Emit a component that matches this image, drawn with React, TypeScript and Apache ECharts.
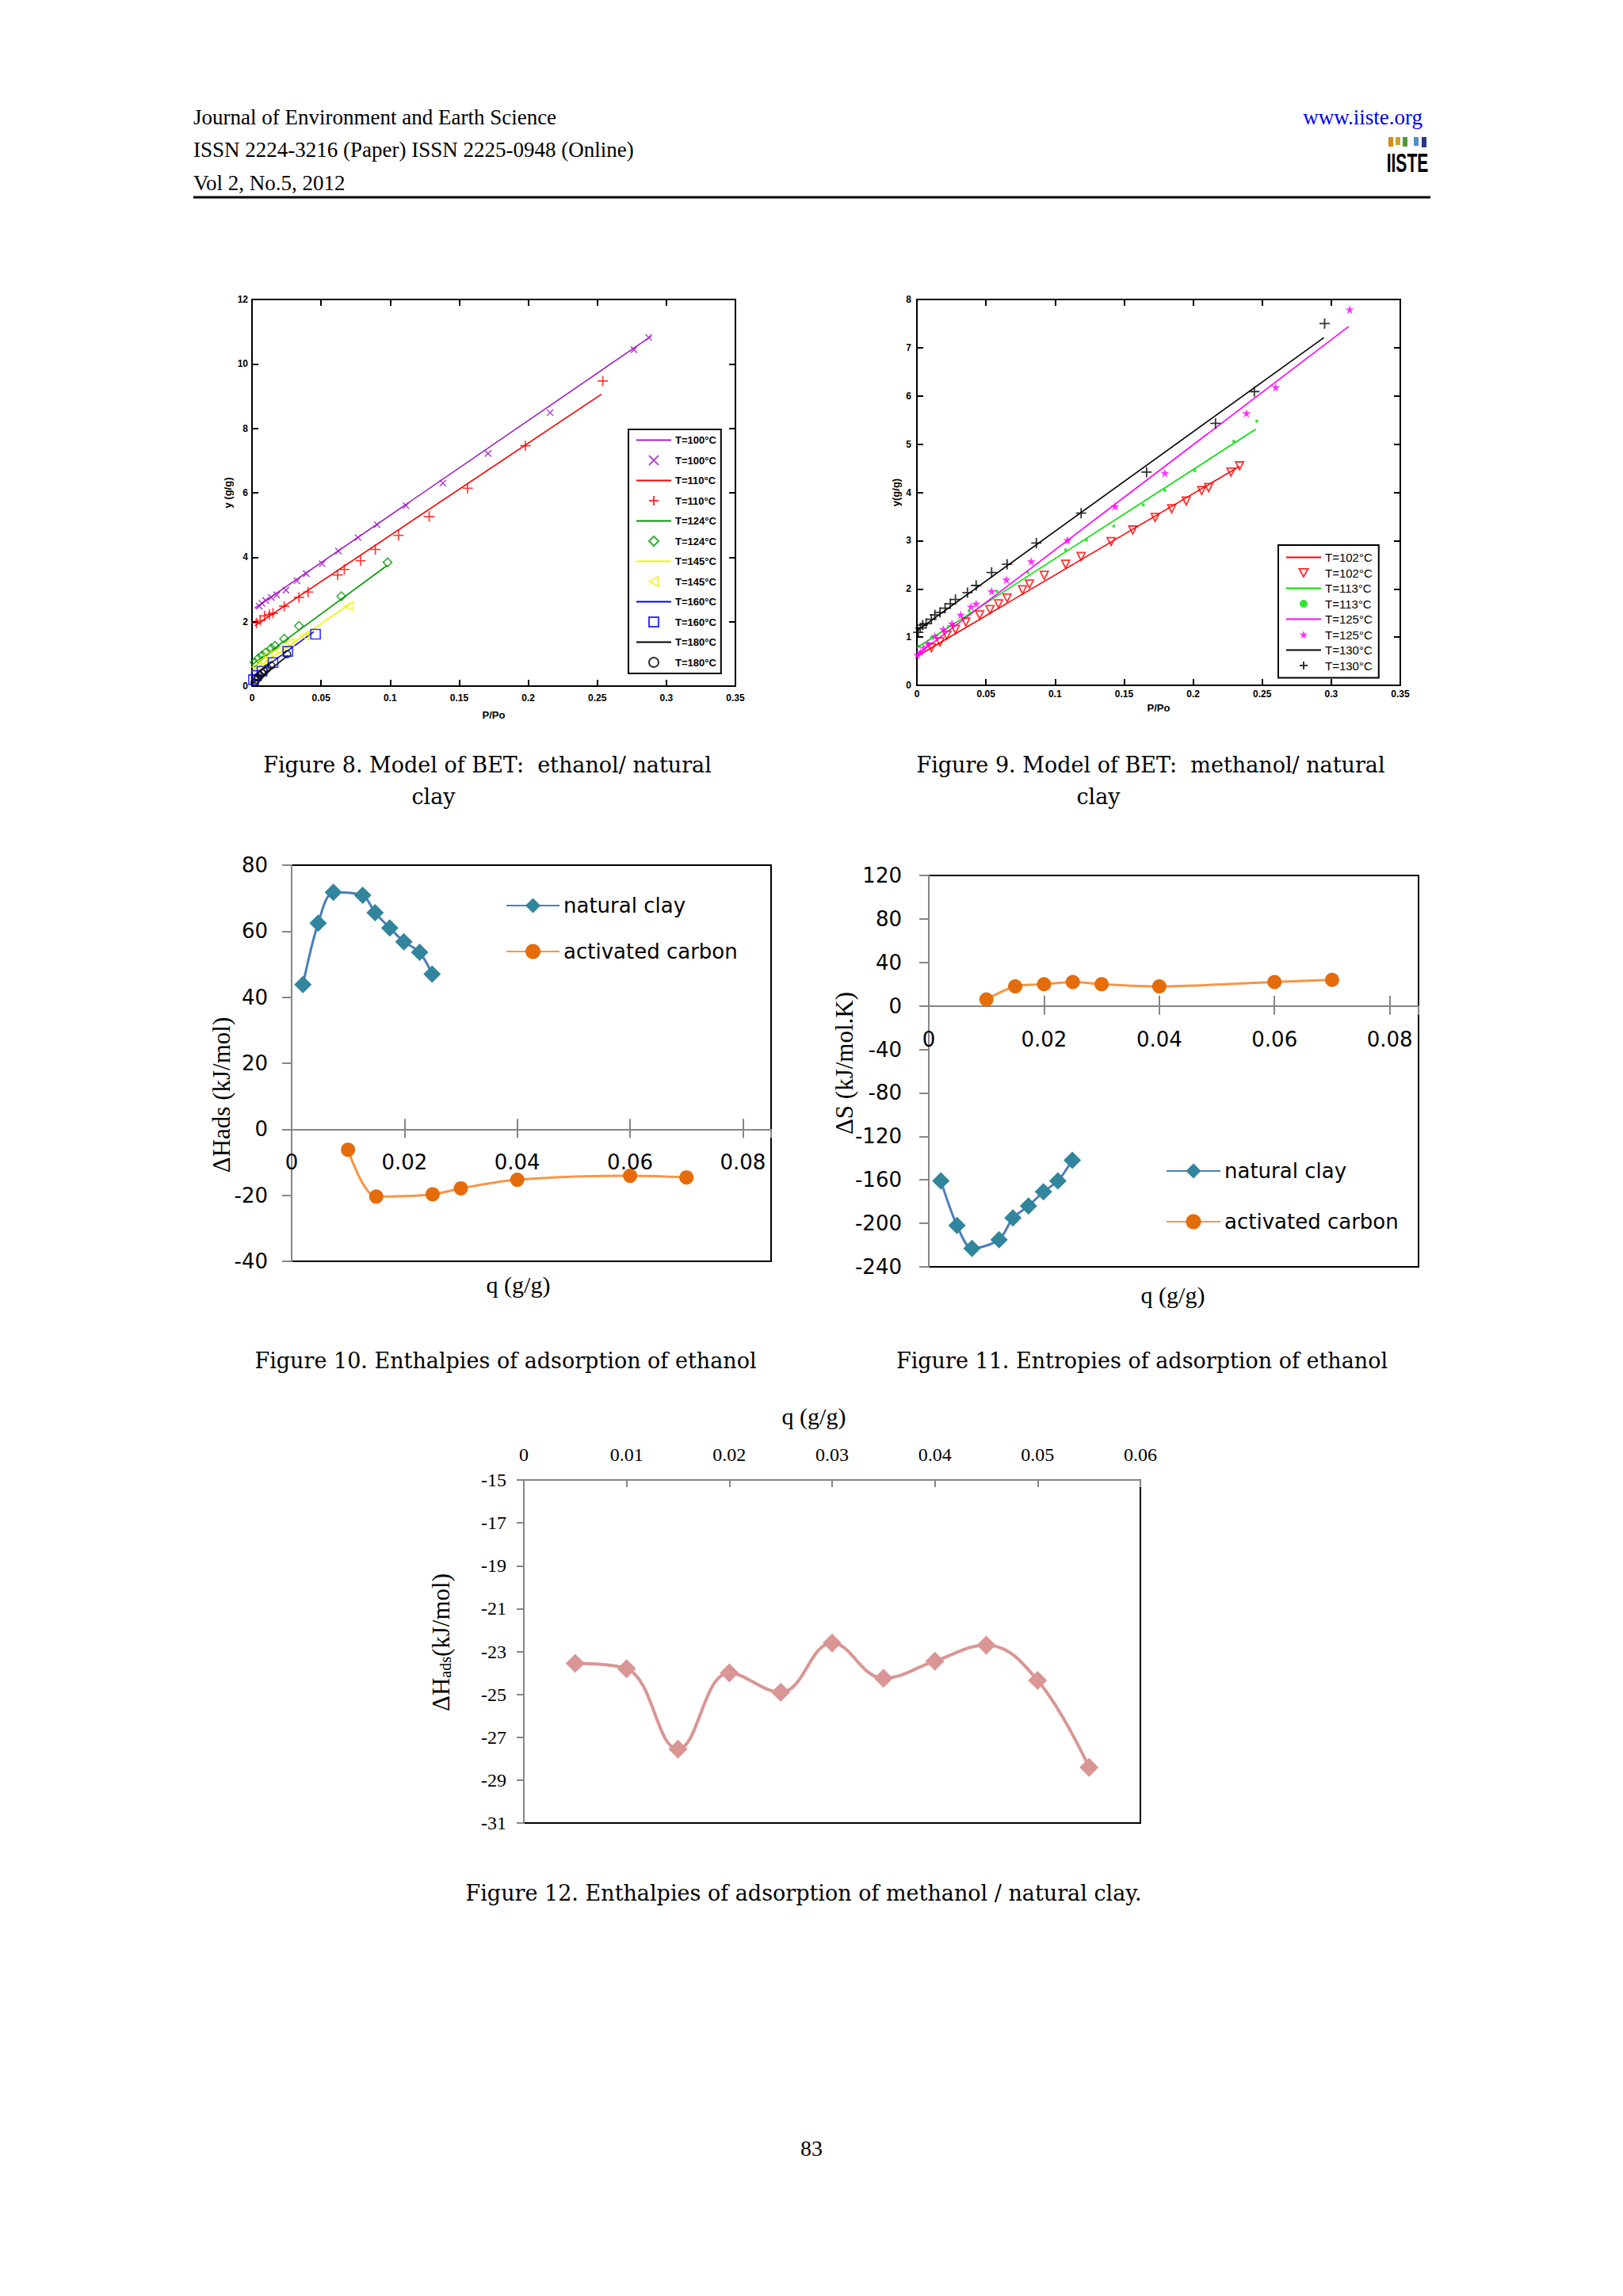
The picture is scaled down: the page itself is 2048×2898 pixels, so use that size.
import React, { useEffect, useRef } from 'react';
import * as echarts from 'echarts';

const PAGE_W = 2048;
const PAGE_H = 2898;

// ---------------- Figure 8 : BET, ethanol / natural clay ----------------
const F8_LABELS = ['T=100°C', 'T=110°C', 'T=124°C', 'T=145°C', 'T=160°C', 'T=180°C'];
const F8_COLORS = ['#A020C0', '#FF0000', '#009A00', '#F2F200', '#0000FF', '#000000'];
const F8_FIT_100 = [[0.002, 2.42], [0.289, 10.86]];
const F8_FIT_110 = [[0.002, 1.87], [0.253, 9.06]];
const F8_FIT_124 = [[0.0005, 0.68], [0.098, 3.75]];
const F8_FIT_145 = [[0, 0.46], [0.0714, 2.57]];
const F8_FIT_160 = [[0, 0.29], [0.0447, 1.69]];
const F8_FIT_180 = [[0, 0.07], [0.026, 0.95]];
const F8_PTS_100 = [[0.0053, 2.48], [0.0072, 2.57], [0.0099, 2.66], [0.0139, 2.75], [0.0179, 2.83], [0.0246, 2.98], [0.0326, 3.27], [0.0393, 3.49], [0.0508, 3.8], [0.0626, 4.19], [0.0767, 4.61], [0.0906, 5.01], [0.1115, 5.6], [0.1382, 6.3], [0.1709, 7.22], [0.2158, 8.49], [0.2765, 10.44], [0.2872, 10.82]];
const F8_PTS_110 = [[0.0032, 1.96], [0.0059, 2.04], [0.0091, 2.18], [0.0126, 2.22], [0.0152, 2.26], [0.0233, 2.48], [0.034, 2.75], [0.0406, 2.92], [0.062, 3.45], [0.0668, 3.62], [0.0786, 3.89], [0.0893, 4.24], [0.1061, 4.68], [0.1283, 5.26], [0.1561, 6.14], [0.1979, 7.46], [0.254, 9.47]];
const F8_PTS_124 = [[0.0019, 0.73], [0.0045, 0.86], [0.0072, 0.95], [0.0099, 1.04], [0.0139, 1.17], [0.0166, 1.25], [0.0233, 1.47], [0.034, 1.87], [0.0647, 2.79], [0.0981, 3.84]];
const F8_PTS_145 = [[0.0032, 0.6], [0.0072, 0.77], [0.0112, 0.95], [0.0193, 1.1], [0.0273, 1.34], [0.038, 1.56], [0.0701, 2.48]];
const F8_PTS_160 = [[0.0011, 0.2], [0.0032, 0.33], [0.0072, 0.46], [0.0152, 0.73], [0.0259, 1.08], [0.046, 1.61]];
const F8_PTS_180 = [[0.0019, 0.11], [0.0032, 0.2], [0.0045, 0.26], [0.0059, 0.33], [0.0072, 0.4], [0.0091, 0.46], [0.0112, 0.55], [0.0139, 0.64], [0.0254, 0.99]];

// ---------------- Figure 9 : BET, methanol / natural clay ----------------
const F9_LABELS = ['T=102°C', 'T=113°C', 'T=125°C', 'T=130°C'];
const F9_COLORS = ['#FF0000', '#00E000', '#FF00FF', '#000000'];
const F9_FIT_102 = [[0, 0.6], [0.2336, 4.54]];
const F9_FIT_113 = [[0, 0.78], [0.2453, 5.31]];
const F9_FIT_125 = [[0, 0.63], [0.3126, 7.44]];
const F9_FIT_130 = [[0, 1.13], [0.2947, 7.21]];
const F9_PTS_102 = [[0.0105, 0.78], [0.0167, 0.9], [0.0217, 1.04], [0.0279, 1.16], [0.0354, 1.31], [0.0454, 1.46], [0.0529, 1.57], [0.0591, 1.69], [0.0653, 1.81], [0.0765, 1.98], [0.0815, 2.1], [0.0922, 2.28], [0.1077, 2.51], [0.1189, 2.67], [0.1406, 2.98], [0.1563, 3.22], [0.1725, 3.48], [0.1845, 3.66], [0.195, 3.82], [0.2062, 4.04], [0.2112, 4.1], [0.2274, 4.42], [0.2336, 4.55]];
const F9_PTS_113 = [[0.0017, 0.81], [0.0105, 0.99], [0.0229, 1.22], [0.0379, 1.54], [0.0578, 1.95], [0.0803, 2.34], [0.1077, 2.81], [0.1227, 3.01], [0.1426, 3.3], [0.1638, 3.74], [0.1795, 4.04], [0.2012, 4.45], [0.2294, 5.06], [0.2461, 5.48]];
const F9_PTS_125 = [[0.0005, 0.63], [0.0025, 0.69], [0.005, 0.78], [0.008, 0.87], [0.013, 1.02], [0.0192, 1.16], [0.0254, 1.28], [0.0317, 1.46], [0.0391, 1.63], [0.0429, 1.69], [0.0541, 1.95], [0.0648, 2.19], [0.0828, 2.57], [0.109, 3.01], [0.1434, 3.71], [0.1795, 4.4], [0.2386, 5.64], [0.2598, 6.18], [0.3134, 7.79]];
const F9_PTS_130 = [[0.001, 1.1], [0.0025, 1.19], [0.0042, 1.25], [0.0067, 1.28], [0.0105, 1.37], [0.013, 1.46], [0.0167, 1.51], [0.0204, 1.6], [0.0242, 1.69], [0.0279, 1.78], [0.0366, 1.92], [0.0429, 2.07], [0.0541, 2.34], [0.0653, 2.51], [0.0865, 2.95], [0.1189, 3.57], [0.1663, 4.42], [0.2162, 5.43], [0.2443, 6.09], [0.2952, 7.5]];

// ---------------- Figure 10 : enthalpies, ethanol ----------------
const F10_CLAY_Q = [0.002, 0.0047, 0.0074, 0.0126, 0.0148, 0.0174, 0.0199, 0.0227, 0.0249];
const F10_CLAY_H = [43.8, 62.4, 71.8, 70.9, 65.6, 61.0, 56.8, 53.6, 47.0];
const F10_AC_Q = [0.01, 0.015, 0.025, 0.03, 0.04, 0.06, 0.07];
const F10_AC_H = [-6.2, -20.4, -19.7, -17.9, -15.3, -14.1, -14.6];
const F10_Y_RANGE = [-40, 80];

// ---------------- Figure 11 : entropies, ethanol ----------------
const F11_CLAY_Q = [0.0021, 0.0049, 0.0075, 0.0122, 0.0146, 0.0173, 0.0199, 0.0224, 0.0249];
const F11_CLAY_S = [-161, -202, -223, -215, -195, -184, -171, -161, -142];
const F11_AC_Q = [0.01, 0.015, 0.02, 0.025, 0.03, 0.04, 0.06, 0.07];
const F11_AC_S = [6, 18, 20, 22, 20, 18, 22, 24];
const F11_Y_RANGE = [-240, 120];

// ---------------- Figure 12 : enthalpies, methanol / natural clay ----------------
const F12_Q = [0.005, 0.01, 0.015, 0.02, 0.025, 0.03, 0.035, 0.04, 0.045, 0.05, 0.055];
const F12_H = [-23.55, -23.8, -27.55, -24.0, -24.9, -22.6, -24.25, -23.45, -22.7, -24.35, -28.4];
const F12_Y_TICKS = [-31, -29, -27, -25, -23, -21, -19, -17, -15];

const SYM_X = 'path://M0,0L10,10M10,0L0,10';
const SYM_PLUS = 'path://M5,0L5,10M0,5L10,5';
const SYM_STAR = 'path://M5,0L6.2,3.6L10,3.6L6.9,5.9L8.1,9.5L5,7.3L1.9,9.5L3.1,5.9L0,3.6L3.8,3.6Z';
const SYM_LEFT = 'path://M10,0L10,10L1,5Z';
const SYM_DOWN = 'path://M0,1L10,1L5,10Z';
const SYM_DIAMOND = 'path://M5,0L10,5L5,10L0,5Z';
const SYM_SQUARE = 'path://M0,0L10,0L10,10L0,10Z';
const SYM_CIRCLE = 'circle';
const LINE_ICON = 'path://M0,0L44,0L44,2L0,2Z';

const zip = (a: number[], b: number[]) => a.map((v, i) => [v, b[i]]);
const NONE = 'rgba(0,0,0,0)';

const SERIF = '"Liberation Serif"';
const CAP = '"DejaVu Serif"';
const TAH = 'DejaVu Sans';
const GRAY = '#868686';

// grid boxes
const G8 = { left: 318, top: 378, width: 610, height: 488 };
const G9 = { left: 1157, top: 378, width: 610, height: 487 };
const G10 = { left: 368, top: 1092, width: 605, height: 500 };
const G11 = { left: 1172, top: 1105, width: 618, height: 494 };
const G12 = { left: 661, top: 1868, width: 778, height: 433 };

const zeroOf = (g: any, r: number[]) => g.top + (r[1] / (r[1] - r[0])) * g.height;

function matAxis(dim: 'x' | 'y', grid: number, pos: string, min: number, max: number, interval: number, showLabel: boolean, margin: number, name?: string, nameGap?: number) {
  return {
    type: 'value', gridIndex: grid, position: pos, min, max, interval,
    name: name || '', nameLocation: 'middle', nameGap: nameGap || 0,
    nameRotate: dim === 'y' ? 90 : 0,
    nameTextStyle: { fontFamily: 'Liberation Sans', fontWeight: 'bold', fontSize: 13, color: '#000' },
    axisLine: { show: true, onZero: false, lineStyle: { color: '#000', width: 2 } },
    axisTick: { show: true, inside: true, length: 8, lineStyle: { color: '#000', width: 2 } },
    axisLabel: { show: showLabel, margin, fontFamily: 'Liberation Sans', fontWeight: 'bold', fontSize: 12, color: '#000' },
    splitLine: { show: false },
  };
}

const fmt02 = (v: number) => {
  const k = v / 0.02;
  return Math.abs(k - Math.round(k)) < 1e-6 ? String(+v.toFixed(2)) : '';
};

const Q_MAX = 0.085;

// hidden data axis for fig 10 / 11
function dataX(grid: number) {
  return { type: 'value', gridIndex: grid, min: 0, max: Q_MAX, show: false, axisLine: { onZero: false } };
}
// visible axis drawn along the zero line (upper half of the cross ticks + labels)
function zeroAxisTop(grid: number) {
  return {
    type: 'value', gridIndex: grid, position: 'top', min: 0, max: Q_MAX, interval: 0.02,
    axisLine: { show: true, onZero: false, lineStyle: { color: GRAY, width: 2 } },
    axisTick: { show: true, inside: false, length: 13, lineStyle: { color: GRAY, width: 2 } },
    axisLabel: { show: true, inside: true, margin: 29, fontFamily: TAH, fontSize: 26, color: '#000', showMaxLabel: false, formatter: fmt02 },
    splitLine: { show: false },
  };
}
// lower half of the cross ticks
function zeroAxisBottom(grid: number) {
  return {
    type: 'value', gridIndex: grid, position: 'bottom', min: 0, max: Q_MAX, interval: 0.02,
    axisLine: { show: false, onZero: false },
    axisTick: { show: true, inside: true, length: 11, lineStyle: { color: GRAY, width: 2 } },
    axisLabel: { show: false },
    splitLine: { show: false },
  };
}

function excelY(grid: number, r: number[], interval: number, margin: number) {
  return {
    type: 'value', gridIndex: grid, min: r[0], max: r[1], interval,
    axisLine: { show: true, onZero: false, lineStyle: { color: GRAY, width: 2 } },
    axisTick: { show: true, length: 12, lineStyle: { color: GRAY, width: 2 } },
    axisLabel: { margin, fontFamily: TAH, fontSize: 26, color: '#000' },
    splitLine: { show: false },
  };
}

function buildOption() {
  const series: any[] = [];

  const f8Fits = [F8_FIT_100, F8_FIT_110, F8_FIT_124, F8_FIT_145, F8_FIT_160, F8_FIT_180];
  const f8Pts = [F8_PTS_100, F8_PTS_110, F8_PTS_124, F8_PTS_145, F8_PTS_160, F8_PTS_180];
  const f8Sym = [SYM_X, SYM_PLUS, SYM_DIAMOND, SYM_LEFT, SYM_SQUARE, SYM_CIRCLE];
  const f8Size = [8, 13, 11, 11, 12, 9];
  const f8Legend: any[] = [];
  f8Fits.forEach((fit, i) => {
    const c = F8_COLORS[i];
    f8Legend.push({ name: F8_LABELS[i] + '#l', icon: LINE_ICON }, { name: F8_LABELS[i] + '#p', icon: f8Sym[i] });
    series.push({
      type: 'line', name: F8_LABELS[i] + '#l', xAxisIndex: 0, yAxisIndex: 0, data: fit,
      symbol: 'none', lineStyle: { color: c, width: 1.6 }, itemStyle: { color: c }, z: 2,
    });
    series.push({
      type: 'scatter', name: F8_LABELS[i] + '#p', xAxisIndex: 0, yAxisIndex: 0, data: f8Pts[i],
      symbol: f8Sym[i], symbolSize: f8Size[i],
      itemStyle: { color: NONE, borderColor: c, borderWidth: 1.6 }, z: 3,
    });
  });

  const f9Fits = [F9_FIT_102, F9_FIT_113, F9_FIT_125, F9_FIT_130];
  const f9Pts = [F9_PTS_102, F9_PTS_113, F9_PTS_125, F9_PTS_130];
  const f9Sym = [SYM_DOWN, 'circle', SYM_STAR, SYM_PLUS];
  const f9Size = [10, 4, 11, 13];
  const f9Filled = [false, true, true, false];
  const f9Legend: any[] = [];
  f9Fits.forEach((fit, i) => {
    const c = F9_COLORS[i];
    f9Legend.push({ name: F9_LABELS[i] + '#l', icon: LINE_ICON }, { name: F9_LABELS[i] + '#p', icon: f9Sym[i] });
    series.push({
      type: 'line', name: F9_LABELS[i] + '#l', xAxisIndex: 2, yAxisIndex: 2, data: fit,
      symbol: 'none', lineStyle: { color: c, width: 1.6 }, itemStyle: { color: c }, z: 2,
    });
    series.push({
      type: 'scatter', name: F9_LABELS[i] + '#p', xAxisIndex: 2, yAxisIndex: 2, data: f9Pts[i],
      symbol: f9Sym[i], symbolSize: f9Size[i],
      itemStyle: f9Filled[i] ? { color: c } : { color: NONE, borderColor: c, borderWidth: 1.8 }, z: 3,
    });
  });

  const clayStyle = {
    smooth: 0.3, symbol: 'diamond', symbolSize: 22,
    lineStyle: { color: '#4A7EBB', width: 3 }, itemStyle: { color: '#31859C' },
  };
  const acStyle = {
    smooth: 0.3, symbol: 'circle', symbolSize: 18,
    lineStyle: { color: '#F79646', width: 3 }, itemStyle: { color: '#E46C0A' },
  };
  series.push({ type: 'line', name: 'natural clay', xAxisIndex: 4, yAxisIndex: 4, data: zip(F10_CLAY_Q, F10_CLAY_H), ...clayStyle });
  series.push({ type: 'line', name: 'activated carbon', xAxisIndex: 4, yAxisIndex: 4, data: zip(F10_AC_Q, F10_AC_H), ...acStyle });
  series.push({ type: 'line', name: 'natural clay', xAxisIndex: 5, yAxisIndex: 5, data: zip(F11_CLAY_Q, F11_CLAY_S), ...clayStyle });
  series.push({ type: 'line', name: 'activated carbon', xAxisIndex: 5, yAxisIndex: 5, data: zip(F11_AC_Q, F11_AC_S), ...acStyle });

  series.push({
    type: 'line', name: 'methanol', xAxisIndex: 6, yAxisIndex: 6, data: zip(F12_Q, F12_H),
    smooth: 0.4, symbol: 'diamond', symbolSize: 24,
    lineStyle: { color: '#D99694', width: 4 }, itemStyle: { color: '#D99694' },
  });

  const nameFmt = (n: string) => n.split('#')[0];

  const text = (t: string, x: number, y: number, font: string, extra: any = {}) => ({
    type: 'text', x, y, ...extra,
    style: { text: t, font, fill: extra.fill || '#000', align: extra.align || 'center', verticalAlign: 'middle' },
  });

  const graphic: any[] = [
    text('Journal of Environment and Earth Science', 244, 148, `27px ${SERIF}`, { align: 'left' }),
    text('ISSN 2224-3216 (Paper) ISSN 2225-0948 (Online)', 244, 189, `27px ${SERIF}`, { align: 'left' }),
    text('Vol 2, No.5, 2012', 244, 231, `27px ${SERIF}`, { align: 'left' }),
    text('www.iiste.org', 1795, 148, `27px ${SERIF}`, { align: 'right', fill: '#0000EE' }),
    { type: 'line', shape: { x1: 244, y1: 249, x2: 1805, y2: 249 }, style: { stroke: '#000', lineWidth: 3 } },
    { type: 'rect', shape: { x: 1752, y: 173, width: 6, height: 12 }, style: { fill: '#D88A1C' } },
    { type: 'rect', shape: { x: 1761, y: 173, width: 6, height: 10 }, style: { fill: '#C9A227' } },
    { type: 'rect', shape: { x: 1770, y: 173, width: 6, height: 12 }, style: { fill: '#4E9A3A' } },
    { type: 'rect', shape: { x: 1784, y: 173, width: 6, height: 11 }, style: { fill: '#4A90D0' } },
    { type: 'rect', shape: { x: 1794, y: 173, width: 6, height: 13 }, style: { fill: '#24368C' } },
    {
      type: 'text', x: 1776, y: 205, scaleX: 0.62,
      style: { text: 'IISTE', font: `bold 34px "Liberation Sans"`, fill: '#000', align: 'center', verticalAlign: 'middle' },
    },

    text('Figure 8. Model of BET:  ethanol/ natural', 615, 965, `27px ${CAP}`),
    text('clay', 547, 1005, `27px ${CAP}`),
    text('Figure 9. Model of BET:  methanol/ natural', 1452, 965, `27px ${CAP}`),
    text('clay', 1386, 1005, `27px ${CAP}`),
    text('Figure 10. Enthalpies of adsorption of ethanol', 638, 1717, `27px ${CAP}`),
    text('Figure 11. Entropies of adsorption of ethanol', 1441, 1717, `27px ${CAP}`),
    text('Figure 12. Enthalpies of adsorption of methanol / natural clay.', 1014, 2389, `27px ${CAP}`),
    text('83', 1024, 2711, `28px ${SERIF}`),

    text('ΔHads (kJ/mol)', 279, 1382, `31px ${SERIF}`, { rotation: Math.PI / 2 }),
    text('q (g/g)', 654, 1621, `30px ${SERIF}`),
    text('ΔS (kJ/mol.K)', 1065, 1342, `31px ${SERIF}`, { rotation: Math.PI / 2 }),
    text('q (g/g)', 1480, 1634, `30px ${SERIF}`),
    text('q (g/g)', 1027, 1787, `30px ${SERIF}`),
    {
      type: 'text', x: 556, y: 2073, rotation: Math.PI / 2,
      style: {
        text: '{a|ΔH}{b|ads}{a|(kJ/mol)}', align: 'center', verticalAlign: 'middle',
        rich: {
          a: { font: `31px ${SERIF}`, fill: '#000' },
          b: { font: `20px ${SERIF}`, fill: '#000', verticalAlign: 'bottom' },
        },
      },
    },
  ];

  const z10 = zeroOf(G10, F10_Y_RANGE);
  const z11 = zeroOf(G11, F11_Y_RANGE);

  return {
    animation: false,
    backgroundColor: '#fff',
    grid: [
      { ...G8, show: false },
      { ...G9, show: false },
      { ...G10, show: true, borderColor: '#000', borderWidth: 2, backgroundColor: NONE },
      { ...G11, show: true, borderColor: '#000', borderWidth: 2, backgroundColor: NONE },
      { ...G12, show: true, borderColor: '#000', borderWidth: 2, backgroundColor: NONE },
      { left: G10.left, width: G10.width, top: z10, height: 11, show: false },
      { left: G11.left, width: G11.width, top: z11, height: 11, show: false },
    ],
    xAxis: [
      matAxis('x', 0, 'bottom', 0, 0.35, 0.05, true, 9, 'P/Po', 30),
      matAxis('x', 0, 'top', 0, 0.35, 0.05, false, 0),
      matAxis('x', 1, 'bottom', 0, 0.35, 0.05, true, 5, 'P/Po', 22),
      matAxis('x', 1, 'top', 0, 0.35, 0.05, false, 0),
      dataX(2),
      dataX(3),
      {
        type: 'value', gridIndex: 4, position: 'top', min: 0, max: 0.06, interval: 0.01,
        axisLine: { show: true, onZero: false, lineStyle: { color: GRAY, width: 2 } },
        axisTick: { show: true, inside: true, length: 9, lineStyle: { color: GRAY, width: 2 } },
        axisLabel: { margin: 20, fontFamily: 'Liberation Serif', fontSize: 24, color: '#000' },
        splitLine: { show: false },
      },
      zeroAxisTop(5),
      zeroAxisBottom(5),
      zeroAxisTop(6),
      zeroAxisBottom(6),
    ],
    yAxis: [
      matAxis('y', 0, 'left', 0, 12, 2, true, 5, 'y (g/g)', 24),
      matAxis('y', 0, 'right', 0, 12, 2, false, 0),
      matAxis('y', 1, 'left', 0, 8, 1, true, 7, 'y(g/g)', 20),
      matAxis('y', 1, 'right', 0, 8, 1, false, 0),
      excelY(2, F10_Y_RANGE, 20, 30),
      excelY(3, F11_Y_RANGE, 40, 34),
      {
        type: 'value', gridIndex: 4, min: -31, max: -15, interval: 2,
        axisLine: { show: true, onZero: false, lineStyle: { color: GRAY, width: 2 } },
        axisTick: { show: true, length: 9, customValues: F12_Y_TICKS, lineStyle: { color: GRAY, width: 2 } },
        axisLabel: { margin: 22, customValues: F12_Y_TICKS, fontFamily: 'Liberation Serif', fontSize: 24, color: '#000' },
        splitLine: { show: false },
      },
      { type: 'value', gridIndex: 5, min: 0, max: 1, show: false },
      { type: 'value', gridIndex: 6, min: 0, max: 1, show: false },
    ],
    legend: [
      {
        data: f8Legend, orient: 'vertical', left: 793, top: 542, padding: [7, 6, 7, 10],
        itemWidth: 44, itemHeight: 12, itemGap: 12, itemTextGap: 5, symbolKeepAspect: true,
        borderColor: '#000', borderWidth: 2, backgroundColor: '#fff', selectedMode: false,
        formatter: nameFmt,
        textStyle: { fontFamily: 'Liberation Sans', fontWeight: 'bold', fontSize: 13, color: '#000' },
      },
      {
        data: f9Legend, orient: 'vertical', left: 1613, top: 688, padding: [8, 8, 8, 10],
        itemWidth: 44, itemHeight: 10, itemGap: 4.5, itemTextGap: 3, symbolKeepAspect: true,
        borderColor: '#000', borderWidth: 2, backgroundColor: '#fff', selectedMode: false,
        formatter: nameFmt,
        textStyle: { fontFamily: 'Liberation Sans', fontSize: 15, color: '#000' },
      },
      {
        data: ['natural clay', 'activated carbon'], orient: 'vertical', left: 638, top: 1130, padding: 0,
        itemWidth: 67, itemHeight: 24, itemGap: 32, itemTextGap: 8, selectedMode: false,
        textStyle: { fontFamily: TAH, fontSize: 26, color: '#000' },
      },
      {
        data: ['natural clay', 'activated carbon'], orient: 'vertical', left: 1471, top: 1465, padding: 0,
        itemWidth: 68, itemHeight: 24, itemGap: 38, itemTextGap: 7, selectedMode: false,
        textStyle: { fontFamily: TAH, fontSize: 26, color: '#000' },
      },
    ],
    graphic,
    series,
  };
}

export default function App() {
  const ref = useRef<HTMLDivElement>(null);
  useEffect(() => {
    document.body.style.margin = '0';
    const chart = echarts.init(ref.current as HTMLDivElement, null, { renderer: 'svg', width: PAGE_W, height: PAGE_H });
    chart.setOption(buildOption() as any);
    return () => chart.dispose();
  }, []);
  return (
    <div
      ref={ref}
      style={{ position: 'absolute', left: 0, top: 0, width: PAGE_W, height: PAGE_H, background: '#fff' }}
    />
  );
}
